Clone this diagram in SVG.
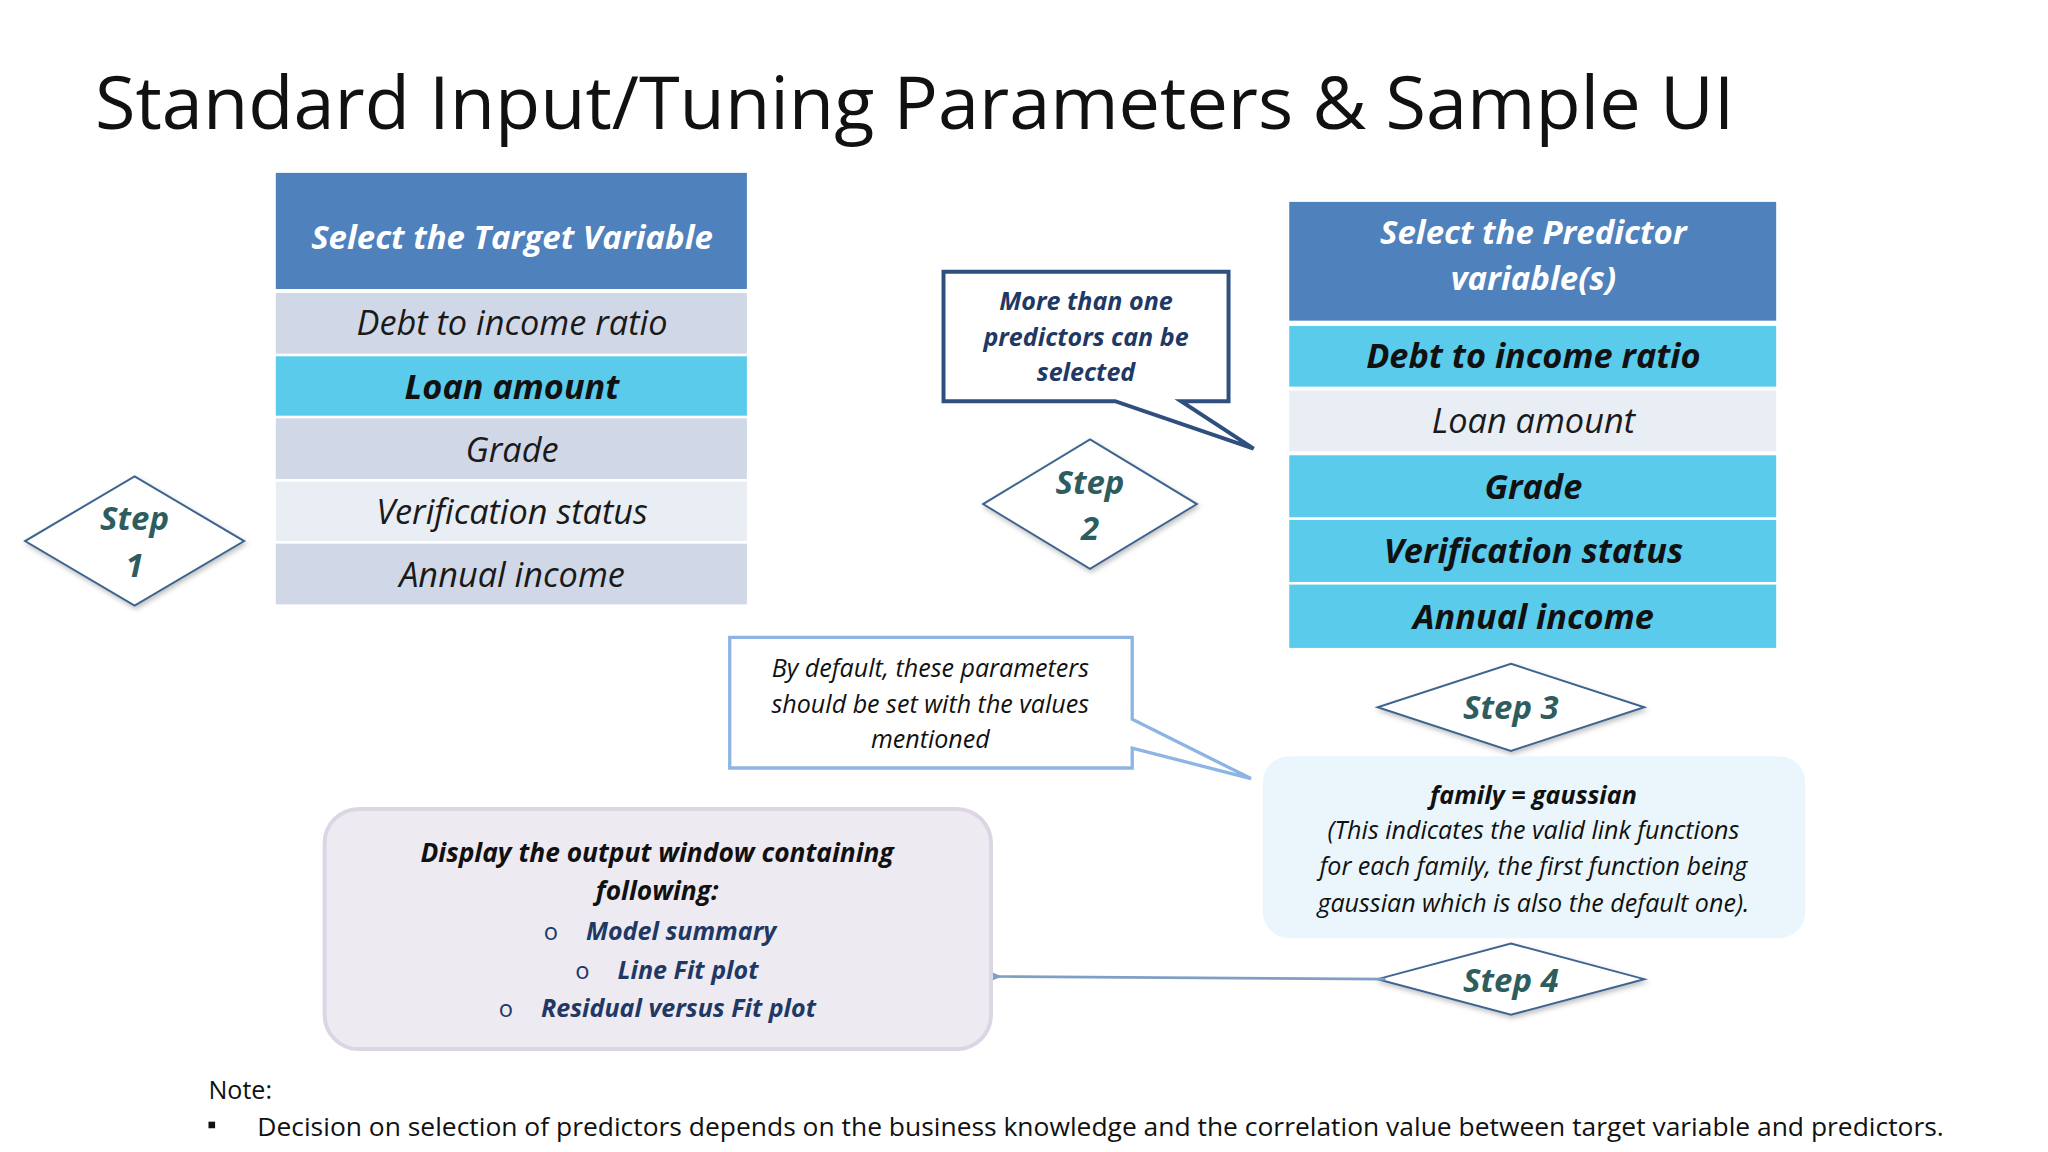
<svg xmlns="http://www.w3.org/2000/svg" width="2048" height="1152" viewBox="0 0 2048 1152">
<defs>
<style>
text{font-family:"Open Sans","Noto Sans","Liberation Sans",sans-serif;}
.hdr{fill:#fff;font-size:25px;font-weight:bold;font-style:italic;}
.row{font-size:26px;font-style:italic;fill:#1a1a1a;}
.rowb{font-size:26px;font-style:italic;font-weight:bold;fill:#111;}
.step{font-size:25px;font-style:italic;font-weight:bold;fill:#2E5D60;}
.dia{fill:#fff;stroke:#3E6490;stroke-width:1.5;}
.nav{font-size:19px;font-style:italic;font-weight:bold;fill:#1F3864;}
.it{font-size:19px;font-style:italic;fill:#111;}
</style>
<filter id="sh" x="-20%" y="-20%" width="140%" height="140%"><feDropShadow dx="1" dy="2" stdDeviation="2" flood-opacity="0.25"/></filter>
<marker id="ah" viewBox="0 0 10 10" refX="1" refY="5" markerWidth="8" markerHeight="8" orient="auto-start-reverse"><path d="M10,1 L1,5 L10,9" fill="none" stroke="#7F9FC4" stroke-width="1.5"/></marker>
</defs>
<rect width="2048" height="1152" fill="#fff"/>
<g transform="scale(1.3196)">
<text x="72" y="98" font-size="56" fill="#111" style="font-family:'Open Sans','Noto Sans',sans-serif">Standard Input/Tuning Parameters &amp; Sample UI</text>

<g id="target-table" text-anchor="middle">
<rect x="209" y="131" width="357" height="88" fill="#4F81BD"/>
<text class="hdr" x="388" y="189">Select the Target Variable</text>
<rect x="209" y="222" width="357" height="46" fill="#D0D8E8"/>
<text class="row" x="388" y="254">Debt to income ratio</text>
<rect x="209" y="270" width="357" height="45" fill="#5BCBEB"/>
<text class="rowb" x="388" y="302">Loan amount</text>
<rect x="209" y="317" width="357" height="46" fill="#D0D8E8"/>
<text class="row" x="388" y="350">Grade</text>
<rect x="209" y="365" width="357" height="45" fill="#E9EDF4"/>
<text class="row" x="388" y="397">Verification status</text>
<rect x="209" y="412" width="357" height="46" fill="#D0D8E8"/>
<text class="row" x="388" y="445">Annual income</text>
</g>

<g id="step1" text-anchor="middle">
<polygon class="dia" filter="url(#sh)" points="102,361 185,410 102,459 19,410"/>
<text class="step" x="102" y="402">Step</text>
<text class="step" x="102" y="437">1</text>
</g>

<g id="callout1" text-anchor="middle">
<path d="M715,206 H931 V304 H895 L950,340 L845,304 H715 Z" fill="#fff" stroke="#2F4F7F" stroke-width="3" stroke-linejoin="miter"/>
<text class="nav" x="823" y="235">More than one</text>
<text class="nav" x="823" y="262">predictors can be</text>
<text class="nav" x="823" y="289">selected</text>
</g>

<g id="step2" text-anchor="middle">
<polygon class="dia" filter="url(#sh)" points="826,333 907,382 826,431 745,382"/>
<text class="step" x="826" y="374">Step</text>
<text class="step" x="826" y="409">2</text>
</g>

<g id="predictor-table" text-anchor="middle">
<rect x="977" y="153" width="369" height="90" fill="#4F81BD"/>
<text class="hdr" x="1162" y="185">Select the Predictor</text>
<text class="hdr" x="1162" y="220">variable(s)</text>
<rect x="977" y="247" width="369" height="46" fill="#5BCBEB"/>
<text class="rowb" x="1162" y="279">Debt to income ratio</text>
<rect x="977" y="296" width="369" height="46" fill="#E9EDF4"/>
<text class="row" x="1162" y="328">Loan amount</text>
<rect x="977" y="345" width="369" height="47" fill="#5BCBEB"/>
<text class="rowb" x="1162" y="378">Grade</text>
<rect x="977" y="394" width="369" height="47" fill="#5BCBEB"/>
<text class="rowb" x="1162" y="427">Verification status</text>
<rect x="977" y="443" width="369" height="48" fill="#5BCBEB"/>
<text class="rowb" x="1162" y="477">Annual income</text>
</g>

<g id="step3" text-anchor="middle">
<polygon class="dia" filter="url(#sh)" points="1145,503 1246,536 1145,569 1044,536"/>
<text class="step" x="1145" y="545">Step 3</text>
</g>

<g id="callout2" text-anchor="middle">
<path d="M553,483 H858 V545 L948,590 L858,567 V582 H553 Z" fill="#fff" stroke="#8EB4E3" stroke-width="2.5"/>
<text class="it" x="705" y="513">By default, these parameters</text>
<text class="it" x="705" y="540">should be set with the values</text>
<text class="it" x="705" y="567">mentioned</text>
</g>

<g id="family-box" text-anchor="middle">
<rect x="957" y="573" width="411" height="138" rx="20" fill="#EAF6FB"/>
<text x="1162" y="609" font-size="19" font-style="italic" font-weight="bold" fill="#111">family = gaussian</text>
<text class="it" x="1162" y="636">(This indicates the valid link functions</text>
<text class="it" x="1162" y="663">for each family, the first function being</text>
<text class="it" x="1162" y="691">gaussian which is also the default one).</text>
</g>

<g id="step4" text-anchor="middle">
<polygon class="dia" filter="url(#sh)" points="1145,715 1246,742 1145,769 1044,742"/>
<text class="step" x="1145" y="752">Step 4</text>
</g>

<g id="connectors">
<line x1="1050" y1="742" x2="756" y2="740" stroke="#7F9FC4" stroke-width="2" marker-end="url(#ah)"/>
</g>

<g id="output-box" text-anchor="middle">
<rect x="246" y="613" width="505" height="182" rx="26" fill="#EEEAF2" stroke="#DCD5E3" stroke-width="3"/>
<text x="498" y="653" font-size="20" font-style="italic" font-weight="bold" fill="#111">Display the output window containing</text>
<text x="498" y="682" font-size="20" font-style="italic" font-weight="bold" fill="#111">following:</text>
<g text-anchor="start">
<text x="412" y="712" font-size="18" fill="#1F3864">o</text><text class="nav" x="444" y="712" font-size="20">Model summary</text>
<text x="436" y="742" font-size="18" fill="#1F3864">o</text><text class="nav" x="468" y="742" font-size="20">Line Fit plot</text>
<text x="378" y="771" font-size="18" fill="#1F3864">o</text><text class="nav" x="410" y="771" font-size="20">Residual versus Fit plot</text>
</g>
</g>

<g id="note">
<text x="158" y="833" font-size="19" fill="#111">Note:</text>
<rect x="158" y="850" width="5" height="5" fill="#111"/>
<text x="195" y="861" font-size="19" fill="#111" textLength="1278" lengthAdjust="spacingAndGlyphs">Decision on selection of predictors depends on the business knowledge and the correlation value between target variable and predictors.</text>
</g>
</g>
</svg>
